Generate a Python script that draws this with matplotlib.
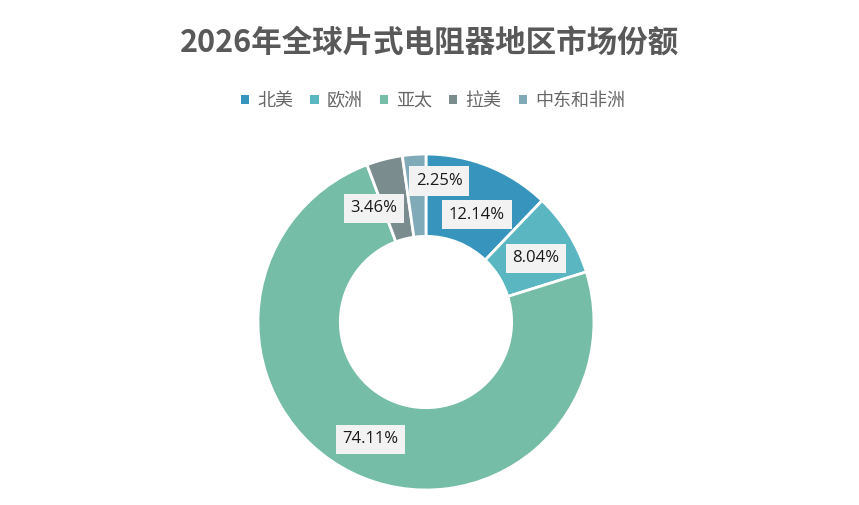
import numpy as np
import matplotlib
matplotlib.use('Agg')
import matplotlib.pyplot as plt
from matplotlib.patches import Patch

plt.rcParams['font.family'] = ['Noto Sans CJK SC', 'DejaVu Sans']

# ── Data ──────────────────────────────────────────────────────────────────
regions = ['北美', '欧洲', '亚太', '拉美', '中东和非洲']
shares = [12.14, 8.04, 74.11, 3.46, 2.25]
colors = ['#3795BD', '#5AB6C1', '#76BDA7', '#7A8C8E', '#80AAB8']
title = '2026年全球片式电阻器地区市场份额'

# label nudges (points) so the small slices don't collide
nudges = [(3, -7), (2, -2), (0, -3), (-15, -6), (16, 11)]

fig = plt.figure(figsize=(8.59, 5.05), dpi=100)
ax = fig.add_axes([0.3003, 0.0297, 0.3912, 0.6653])

wedges, _ = ax.pie(shares, colors=colors, startangle=90, counterclock=False,
                   radius=1.0,
                   wedgeprops=dict(width=0.49, edgecolor='white', linewidth=2))
ax.set_aspect('equal')
ax.set_xlim(-1, 1)
ax.set_ylim(-1, 1)

total = sum(shares)
r_lab = 0.75
cum = 0
for s, (dx, dy) in zip(shares, nudges):
    mid = np.deg2rad(90 - (cum + s / 2) / total * 360)
    cum += s
    ax.annotate(f'{s:.2f}%', (r_lab * np.cos(mid), r_lab * np.sin(mid)),
                xytext=(dx, dy), textcoords='offset points',
                ha='center', va='center', fontsize=12, color='#1a1a1a',
                family=['Open Sans', 'DejaVu Sans'],
                bbox=dict(boxstyle='square,pad=0.4', fc='#F2F2F2', ec='none'))

fig.text(0.5, 0.915, title, ha='center', va='center', fontsize=22,
         fontweight='bold', color='#595959')

handles = [Patch(facecolor=c, edgecolor='none') for c in colors]
fig.legend(handles, regions, loc='center', bbox_to_anchor=(0.504, 0.80),
           ncol=5, frameon=False, fontsize=13, labelcolor='#666666',
           handlelength=0.45, handleheight=0.45, handletextpad=0.45,
           columnspacing=0.95)

fig.savefig('out.png', dpi=100, facecolor='white')
